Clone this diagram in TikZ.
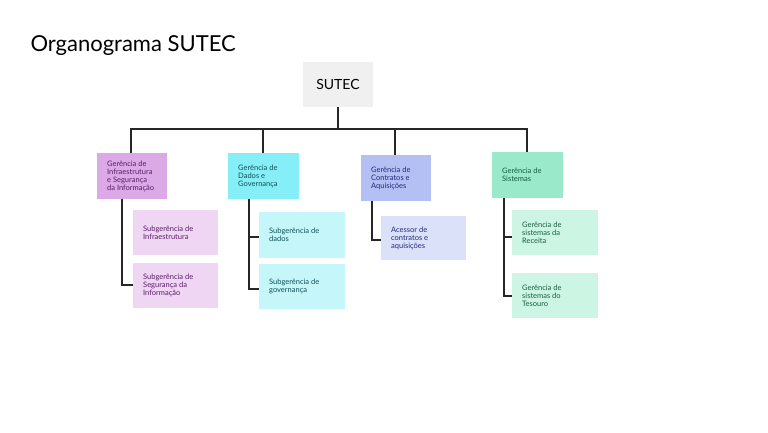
\documentclass[tikz,border=0pt]{standalone}
\usepackage{fontspec}
\setmainfont{Lato}
\begin{document}
\begin{tikzpicture}[x=1pt,y=-1pt,
 bx/.style={anchor=west,inner sep=0pt,font=\fontsize{7.5}{8}\selectfont,align=left},
 ln/.style={line width=1.6pt,black!85},
]
\useasboundingbox (0,0) rectangle (768,433);
\definecolor{pA}{HTML}{DBA9E6}\definecolor{pAs}{HTML}{EFD6F3}\definecolor{tA}{HTML}{5A1A6A}
\definecolor{pB}{HTML}{86EEF6}\definecolor{pBs}{HTML}{C5F6FA}\definecolor{tB}{HTML}{0E4F57}
\definecolor{pC}{HTML}{B4C0F4}\definecolor{pCs}{HTML}{DBE1F9}\definecolor{tC}{HTML}{1E2A7A}
\definecolor{pD}{HTML}{99E9CA}\definecolor{pDs}{HTML}{CDF5E4}\definecolor{tD}{HTML}{165C3F}
\node[anchor=west,font=\fontsize{22}{24}\selectfont] (title) at (27,46) {Organograma SUTEC};
\fill[black!6] (303,62) rectangle (373,107);
\node[font=\fontsize{14}{16}\selectfont] (sutec) at (338,84) {SUTEC};
\coordinate (s) at (338,107);
\newcommand\bx[8]{\fill[#5] (#1,#2) rectangle (#3,#4); \node[bx,text=#6] (#8) at ({#1+10},{(#2+#4)/2}) {#7};}
\bx{97}{153}{167}{199}{pA}{tA}{Gerência de\\Infraestrutura\\e Segurança\\da Informação}{g1}
\bx{228}{153}{299}{199}{pB}{tB}{Gerência de\\Dados e\\Governança}{g2}
\bx{361}{155}{431}{201}{pC}{tC}{Gerência de\\Contratos e\\Aquisições}{g3}
\bx{492}{152}{563}{198}{pD}{tD}{Gerência de\\Sistemas}{g4}
\bx{133}{210}{218}{255}{pAs}{tA}{Subgerência de\\Infraestrutura}{s11}
\bx{133}{263}{218}{308}{pAs}{tA}{Subgerência de\\Segurança da\\Informação}{s12}
\bx{259}{212}{345}{258}{pBs}{tB}{Subgerência de\\dados}{s21}
\bx{259}{264}{345}{309}{pBs}{tB}{Subgerência de\\governança}{s22}
\bx{381}{216}{466}{260}{pCs}{tC}{Acessor de\\contratos e\\aquisições}{s31}
\bx{512}{210}{598}{255}{pDs}{tD}{Gerência de\\sistemas da\\Receita}{s41}
\bx{512}{273}{598}{318}{pDs}{tD}{Gerência de\\sistemas do\\Tesouro}{s42}
\draw[ln] (s) -- (338,129);
\draw[ln] (131,153) -- (131,129) -- (527,129) -- (527,152);
\draw[ln] (263,129) -- (263,153);
\draw[ln] (395,129) -- (395,155);
\draw[ln] (122,199) -- (122,285) -- (133,285);
\draw[ln] (249,199) -- (249,289) -- (259,289);
\draw[ln] (249,237) -- (259,237);
\draw[ln] (372,201) -- (372,240) -- (381,240);
\draw[ln] (504,198) -- (504,296) -- (512,296);
\draw[ln] (504,237) -- (512,237);
\end{tikzpicture}
\end{document}
